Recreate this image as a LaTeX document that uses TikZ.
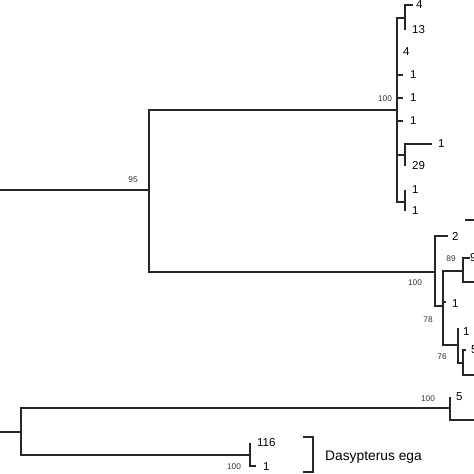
\documentclass[tikz,border=0pt]{standalone}
\usepackage{fontspec}
\setmainfont{Liberation Sans}
\begin{document}
\begin{tikzpicture}[x=1pt,y=-1pt,
  br/.style={line width=1.3pt,black!85},
  tip/.style={anchor=west,inner sep=0pt,font=\fontsize{11.5}{11.5}\selectfont},
  boot/.style={inner sep=0pt,font=\fontsize{8.3}{8.3}\selectfont,black!80},
  taxon/.style={anchor=west,inner sep=0pt,font=\fontsize{13.8}{13.8}\selectfont}]
\useasboundingbox (0,0) rectangle (474,474);
\clip (0,0) rectangle (474,474);
% ---------------- internal nodes ----------------
\coordinate (r0) at (0,190);
\coordinate (n1) at (149,190);
\coordinate (cA) at (397,110);
\coordinate (cB) at (435,272);
% clade A
\coordinate (a1) at (405,18);
\coordinate (a2) at (405,155);
\coordinate (a3) at (405,202);
\coordinate (t4a) at (413,5);
\coordinate (t13) at (405,30);
\coordinate (t4b) at (397,52);
\coordinate (t1a) at (403,75);
\coordinate (t1b) at (403,98);
\coordinate (t1c) at (403,121);
\coordinate (t1d) at (432,144);
\coordinate (t29) at (405,166);
\coordinate (t1e) at (405,190);
\coordinate (t1f) at (405,211);
% clade B
\coordinate (t2) at (448,236);
\coordinate (b1) at (443,306);
\coordinate (b2) at (463,271);
\coordinate (t9) at (470,258);
\coordinate (t9b) at (480,282);
\coordinate (t1g) at (446,302);
\coordinate (b3) at (458,345);
\coordinate (t1h) at (458,328);
\coordinate (b4) at (463,363);
\coordinate (t5a) at (466,350);
\coordinate (t5b) at (480,375);
\coordinate (bk1) at (465,220);
\coordinate (bk2) at (480,220);
% bottom clade
\coordinate (s0) at (0,432);
\coordinate (s1) at (21,432);
\coordinate (s2) at (450,408);
\coordinate (t5c) at (450,397);
\coordinate (t5d) at (480,420);
\coordinate (s3) at (250,455);
\coordinate (t116) at (250,443);
\coordinate (t1i) at (256,466);
\coordinate (k1) at (303,437);
\coordinate (k2) at (313,437);
\coordinate (k3) at (313,472);
\coordinate (k4) at (303,472);
% ---------------- branches ----------------
\draw[br] (r0) -- (n1);
\draw[br] (n1) |- (cA);
\draw[br] (n1) |- (cB);
% clade A
\draw[br] (cA) |- (a1);
\draw[br] (cA) |- (a3);
\draw[br] (cA) |- (a2);
\draw[br] (a1) |- (t4a);
\draw[br] (a1) -- (t13);
\draw[br] (cA |- t1a) -- (t1a);
\draw[br] (cA |- t1b) -- (t1b);
\draw[br] (cA |- t1c) -- (t1c);
\draw[br] (a2) |- (t1d);
\draw[br] (a2) -- (t29);
\draw[br] (a3) -- (t1e);
\draw[br] (a3) -- (t1f);
% clade B
\draw[br] (cB) |- (t2);
\draw[br] (cB) |- (b1);
\draw[br] (b1) |- (b2);
\draw[br] (b1) |- (b3);
\draw[br] (b1 |- t1g) -- (t1g);
\draw[br] (b2) |- (t9);
\draw[br] (b2) |- (t9b);
\draw[br] (b3) -- (t1h);
\draw[br] (b3) |- (b4);
\draw[br] (b4) |- (t5a);
\draw[br] (b4) |- (t5b);
\draw[br] (bk1) -- (bk2);
% bottom clade
\draw[br] (s0) -- (s1);
\draw[br] (s1) |- (s2);
\draw[br] (s1) |- (s3);
\draw[br] (s2) -- (t5c);
\draw[br] (s2) |- (t5d);
\draw[br] (s3) -- (t116);
\draw[br] (s3) |- (t1i);
\draw[br] (k1) -- (k2) -- (k3) -- (k4);
% ---------------- tip labels ----------------
\node[tip] (l4a) at (416,5) {4};
\node[tip] (l13) at (412,30) {13};
\node[tip] (l4b) at (403,52) {4};
\node[tip] (l1a) at (410,75) {1};
\node[tip] (l1b) at (410,98) {1};
\node[tip] (l1c) at (410,121) {1};
\node[tip] (l1d) at (438,144) {1};
\node[tip] (l29) at (412,166) {29};
\node[tip] (l1e) at (412,190) {1};
\node[tip] (l1f) at (412,211) {1};
\node[tip] (l2) at (452,236) {2};
\node[tip] (l9) at (470,258) {9};
\node[tip] (l1g) at (452,304) {1};
\node[tip] (l1h) at (463,332) {1};
\node[tip] (l5a) at (471,350) {5};
\node[tip] (l5c) at (456,397) {5};
\node[tip] (l116) at (257,443) {116};
\node[tip] (l1i) at (263,467) {1};
\node[taxon] (lda) at (325,457) {Dasypterus ega};
% ---------------- support values ----------------
\node[boot] (bs95) at (133,180) {95};
\node[boot] (bs100a) at (385,99) {100};
\node[boot] (bs100b) at (415,283) {100};
\node[boot] (bs89) at (451,259) {89};
\node[boot] (bs78) at (428,320) {78};
\node[boot] (bs76) at (442,357) {76};
\node[boot] (bs100c) at (428,399) {100};
\node[boot] (bs100d) at (234,467) {100};
\end{tikzpicture}
\end{document}
